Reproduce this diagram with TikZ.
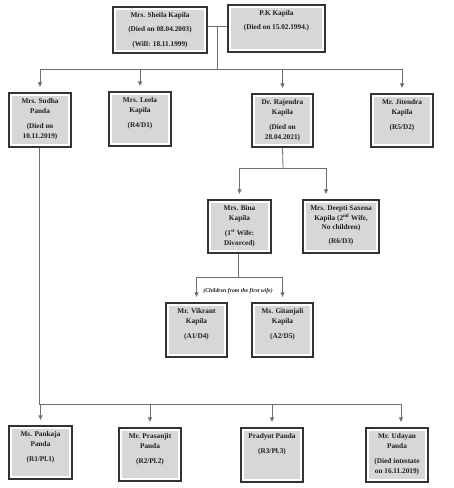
\documentclass[tikz,border=0pt]{standalone}
\usepackage{fontspec}
\setmainfont{Liberation Serif}
\usetikzlibrary{arrows.meta,fit}
\definecolor{cardgray}{HTML}{D7D7D7}
\definecolor{cardline}{HTML}{333333}
\definecolor{linkgray}{HTML}{6E6E6E}
\definecolor{inkdark}{HTML}{1E1E1E}
\tikzset{
  cardbox/.style={draw=cardline, line width=1.3bp, fill=white, inner sep=0pt,
    path picture={\fill[cardgray] ([xshift=3.2bp,yshift=-3.2bp]path picture bounding box.north west) rectangle ([xshift=-3.2bp,yshift=3.2bp]path picture bounding box.south east);}},
  cardtext/.style={anchor=north, inner sep=0pt, align=center, text=inkdark,
    font=\bfseries\fontsize{7.3}{9.9}\selectfont},
  notetext/.style={inner sep=0pt, text=inkdark, font=\bfseries\itshape\fontsize{5.8}{6.5}\selectfont},
  conn/.style={draw=linkgray, line width=0.8bp},
  arr/.style={conn, -{Triangle[width=4bp,length=4.5bp]}, shorten >=5.5bp},
}
\newcommand{\famcard}[6]{%
  \node[cardbox, fit={(#2,#3) (#4,#5)}] (#1) {};
  \node[cardtext] (#1t) at ([yshift=-5.6bp]#1.north) {#6};
}
\newcommand{\pgap}{\\[5.6bp]}
\begin{document}
\begin{tikzpicture}[x=1bp,y=-1bp]
\useasboundingbox[fill=white] (0,0) rectangle (454,488);

\famcard{sheila}{113}{7}{207}{53}{Mrs. Sheila Kapila\\[4.6bp] (Died on 08.04.2003)\\[4.6bp] (Will: 18.11.1999)}
\famcard{pk}{228}{5}{325}{52}{P.K Kapila\\[4.6bp] (Died on 15.02.1994.)}

\famcard{sudha}{9}{93}{71}{147}{Mrs. Sudha\\Panda\pgap(Died on\\10.11.2019)}
\famcard{leela}{109}{92}{171}{146}{Mrs. Leela\\Kapila\pgap(R4/D1)}
\famcard{rajendra}{252}{94}{313}{147}{Dr. Rajendra\\Kapila\pgap(Died on\\28.04.2021)}
\famcard{jitendra}{371}{94}{433}{147}{Mr. Jitendra\\Kapila\pgap(R5/D2)}

\famcard{bina}{208}{200}{271}{253}{Mrs. Bina\\Kapila\pgap(1\textsuperscript{st} Wife:\\Divorced)}
\famcard{deepti}{303}{200}{379}{253}{Mrs. Deepti Saxena\\Kapila (2\textsuperscript{nd} Wife,\\No children)\\[3.5bp](R6/D3)}

\famcard{vikrant}{166}{303}{227}{357}{Mr. Vikrant\\Kapila\pgap(A1/D4)}
\famcard{gitanjali}{252}{303}{313}{357}{Ms. Gitanjali\\Kapila\pgap(A2/D5)}

\famcard{pankaja}{9}{426}{72}{479}{Ms. Pankaja\\Panda\pgap(R1/Pl.1)}
\famcard{prasanjit}{119}{428}{181}{481}{Mr. Prasanjit\\Panda\pgap(R2/Pl.2)}
\famcard{pradyut}{241}{428}{303}{482}{Pradyut Panda\pgap(R3/Pl.3)}
\famcard{udayan}{366}{428}{428}{482}{Mr. Udayan\\Panda\pgap(Died intestate\\on 16.11.2019)}

% junction points
\coordinate (mlevel) at (217,26);
\coordinate (j1) at (217,69);
\coordinate (j2) at (283,168);
\coordinate (j3) at (238,277);
\coordinate (j4) at (39,404);

% parents
\draw[conn] (sheila.east |- mlevel) -- (pk.west |- mlevel);
\draw[conn] (mlevel) -- (j1);
\draw[arr] (j1) -| (sudha.north);
\draw[arr] (j1) -| (leela.north);
\draw[arr] (j1) -| (rajendra.north);
\draw[arr] (j1) -| (jitendra.north);

% Rajendra's wives
\draw[conn] (rajendra.south) -- (j2);
\draw[arr] (j2) -| (bina.north);
\draw[arr] (j2) -| ([xshift=-15bp]deepti.north);

% children of first wife
\draw[conn] (j3 |- bina.south) -- (j3);
\draw[arr] (j3) -| (vikrant.north);
\draw[arr] (j3) -| (gitanjali.north);
\node[notetext] (childnote) at (238,291) {(Children from the first wife)};

% Sudha's children
\draw[conn] (j4 |- sudha.south) -- (j4);
\draw[arr] (j4) -| (pankaja.north);
\draw[arr] (j4) -| (prasanjit.north);
\draw[arr] (j4) -| (pradyut.north);
\draw[arr] (j4) -| ([xshift=4bp]udayan.north);
\end{tikzpicture}
\end{document}
